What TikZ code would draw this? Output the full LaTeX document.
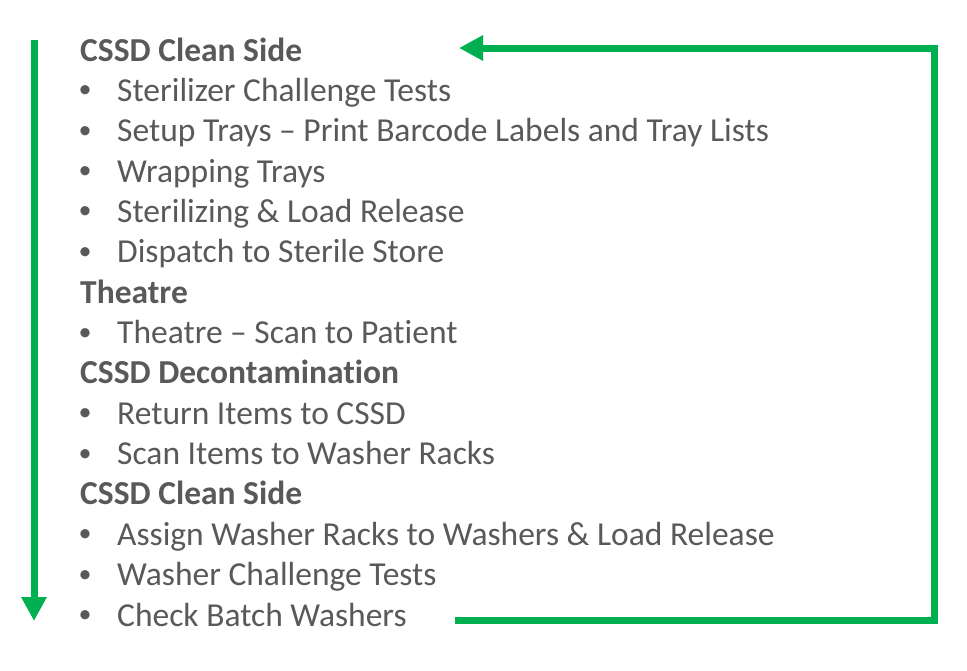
\documentclass[tikz,border=0pt]{standalone}
\usepackage{fontspec}
\setmainfont[Ligatures={NoCommon}]{Carlito}
\usetikzlibrary{positioning, calc, arrows.meta}
\definecolor{txtgray}{HTML}{595959}
\definecolor{flowgreen}{HTML}{00B050}
\tikzset{>={Triangle[length=24pt, width=24pt]}}

\begin{document}
\begin{tikzpicture}[x=1pt, y=-1pt]

\tikzstyle{head}=[anchor=base west, inner sep=0, text=txtgray, font=\fontsize{33.5}{40}\selectfont\bfseries]
\tikzstyle{item}=[anchor=base west, inner sep=0, text=txtgray, font=\fontsize{33.5}{40}\selectfont]
\tikzstyle{dot}=[anchor=base west, inner sep=0, text=txtgray, font=\fontsize{26}{30}\selectfont]
\tikzstyle{flow}=[draw=flowgreen, line width=7pt, line join=miter]

\useasboundingbox (0,0) rectangle (967,670);

% headings
\node [head] (head-1) at (80, 61) {CSSD Clean Side};
\node [head] (head-2) at ($(head-1.base west) + (0, 6*40.36)$) {Theatre};
\node [head] (head-3) at ($(head-1.base west) + (0, 8*40.36)$) {CSSD Decontamination};
\node [head] (head-4) at ($(head-1.base west) + (0, 11*40.36)$) {CSSD Clean Side};

% items
\foreach \row/\txt [count=\i] in {1/Sterilizer Challenge Tests,
	2/Setup Trays – Print Barcode Labels and Tray Lists,
	3/Wrapping Trays,
	4/Sterilizing \& Load Release,
	5/Dispatch to Sterile Store,
	7/Theatre – Scan to Patient,
	9/Return Items to CSSD,
	10/Scan Items to Washer Racks,
	12/Assign Washer Racks to Washers \& Load Release,
	13/Washer Challenge Tests,
	14/Check Batch Washers}
{
	\node [item] (item-\i) at ($(head-1.base west) + (37, \row*40.36)$) {\txt};
	\node [dot] (bullet-\i) at ($(head-1.base west) + (-1.5, \row*40.36 - 3.5)$) {•};
}

% flow arrows
\coordinate (down-start) at (34, 40);
\coordinate (down-end) at (34, 621);
\draw [flow, ->] (down-start) -- (down-end);

\coordinate (loop-start) at (455, 620);
\coordinate (loop-corner) at (934, 48);
\coordinate (loop-end) at (459, 48);
\draw [flow, ->] (loop-start) -| (loop-corner) -- (loop-end);

\end{tikzpicture}
\end{document}
